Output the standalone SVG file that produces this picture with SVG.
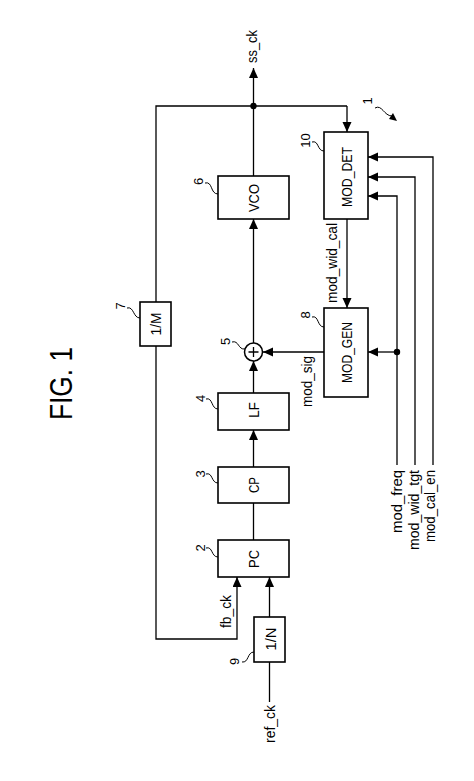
<svg xmlns="http://www.w3.org/2000/svg" width="474" height="781" viewBox="0 0 474 781">
<style>
.box{fill:#fff;stroke:#000;stroke-width:1.6}
.ln{fill:none;stroke:#000;stroke-width:1.3}
.ld{fill:none;stroke:#000;stroke-width:1}
.t{font-family:"Liberation Sans",Arial,sans-serif;font-size:14px;fill:#000;text-anchor:middle}
.n{font-family:"Liberation Sans",Arial,sans-serif;font-size:13px;fill:#000;text-anchor:middle}
</style>
<defs>
<marker id="ah" markerUnits="userSpaceOnUse" markerWidth="11" markerHeight="10" refX="10" refY="4.5" orient="auto">
<path d="M0,0 L10,4.5 L0,9 Z" fill="#000"/>
</marker>
</defs>
<rect width="474" height="781" fill="#fff"/>

<text class="t" style="font-size:32px" transform="translate(72,383.5) rotate(-90)" textLength="73" lengthAdjust="spacingAndGlyphs">FIG. 1</text>

<g id="connectors">
<path class="ln" d="M253.5,176 V68" marker-end="url(#ah)"/>
<path class="ln" d="M156,302 V106 H347"/>
<path class="ln" d="M347,106 V132" marker-end="url(#ah)"/>
<path class="ln" d="M156,346 V639 H237 V577" marker-end="url(#ah)"/>
<path class="ln" d="M269.5,702 V662"/>
<path class="ln" d="M269.5,617 V577" marker-end="url(#ah)"/>
<path class="ln" d="M253.5,540 V503"/>
<path class="ln" d="M253.5,467 V430" marker-end="url(#ah)"/>
<path class="ln" d="M253.5,393 V361" marker-end="url(#ah)"/>
<path class="ln" d="M253.5,343 V219" marker-end="url(#ah)"/>
<path class="ln" d="M324,352 H263" marker-end="url(#ah)"/>
<path class="ln" d="M347,219 V308" marker-end="url(#ah)"/>
<path class="ln" d="M397,465 V196 H368" marker-end="url(#ah)"/>
<path class="ln" d="M397,352 H368" marker-end="url(#ah)"/>
<path class="ln" d="M415,465 V177 H368" marker-end="url(#ah)"/>
<path class="ln" d="M433,465 V157 H368" marker-end="url(#ah)"/>
<circle cx="253.5" cy="106" r="3.2" fill="#000"/>
<circle cx="397" cy="352" r="3.2" fill="#000"/>
</g>

<g id="n1">
<text class="n" transform="translate(372,101) rotate(-90)">1</text>
<path class="ld" d="M375,108 C382,104 384,116 392,116"/>
<path d="M397,121 L389,119 L393,113 Z" fill="#000"/>
</g>

<g id="vco">
<rect class="box" x="218" y="176" width="71" height="43"/>
<text class="t" transform="translate(259,198) rotate(-90)" textLength="28" lengthAdjust="spacingAndGlyphs">VCO</text>
<text class="n" transform="translate(203,181.5) rotate(-90)">6</text>
<path class="ld" d="M205,183 C213,181 210,194 218,194"/>
</g>

<g id="lf">
<rect class="box" x="218" y="393" width="71" height="37"/>
<text class="t" transform="translate(259,410) rotate(-90)" textLength="16" lengthAdjust="spacingAndGlyphs">LF</text>
<text class="n" transform="translate(205,398.5) rotate(-90)">4</text>
<path class="ld" d="M206,399 C213,397 211,409 218,409"/>
</g>

<g id="cp">
<rect class="box" x="218" y="467" width="71" height="36"/>
<text class="t" transform="translate(259,485) rotate(-90)" textLength="16" lengthAdjust="spacingAndGlyphs">CP</text>
<text class="n" transform="translate(205,474) rotate(-90)">3</text>
<path class="ld" d="M206,474 C213,472 211,483 218,483"/>
</g>

<g id="pc">
<rect class="box" x="218" y="540" width="71" height="37"/>
<text class="t" transform="translate(259,559) rotate(-90)" textLength="18" lengthAdjust="spacingAndGlyphs">PC</text>
<text class="n" transform="translate(205,548) rotate(-90)">2</text>
<path class="ld" d="M206,548 C213,546 211,557 218,557"/>
</g>

<g id="sum">
<circle cx="253.5" cy="352" r="9" fill="#fff" stroke="#000" stroke-width="1.5"/>
<path class="ln" d="M248.5,352 H258.5 M253.5,347 V357"/>
<text class="n" transform="translate(230,341.5) rotate(-90)">5</text>
<path class="ld" d="M232,342 C239,340 238,350 245,349"/>
</g>

<g id="div_m">
<rect class="box" x="140" y="302" width="31" height="44"/>
<text class="t" transform="translate(161,324) rotate(-90)" textLength="23" lengthAdjust="spacingAndGlyphs">1/M</text>
<text class="n" transform="translate(125,306) rotate(-90)">7</text>
<path class="ld" d="M127,308 C134,306 133,318 140,318"/>
</g>

<g id="div_n">
<rect class="box" x="254" y="617" width="31" height="45"/>
<text class="t" transform="translate(276,639) rotate(-90)" textLength="23" lengthAdjust="spacingAndGlyphs">1/N</text>
<text class="n" transform="translate(239,661.5) rotate(-90)">9</text>
<path class="ld" d="M242,662 C249,663 247,652 254,652"/>
</g>

<g id="mod_det">
<rect class="box" x="324" y="132" width="44" height="87"/>
<text class="t" transform="translate(352,177) rotate(-90)" textLength="60" lengthAdjust="spacingAndGlyphs">MOD_DET</text>
<text class="n" transform="translate(310,140.5) rotate(-90)">10</text>
<path class="ld" d="M312,142 C319,140 317,151 324,151"/>
</g>

<g id="mod_gen">
<rect class="box" x="324" y="308" width="44" height="89"/>
<text class="t" transform="translate(352,352.5) rotate(-90)" textLength="61" lengthAdjust="spacingAndGlyphs">MOD_GEN</text>
<text class="n" transform="translate(310,315) rotate(-90)">8</text>
<path class="ld" d="M312,317 C319,315 317,327 324,327"/>
</g>

<g id="labels">
<text class="t" transform="translate(257,46.5) rotate(-90)" textLength="33" lengthAdjust="spacingAndGlyphs">ss_ck</text>
<text class="t" transform="translate(275,724) rotate(-90)" textLength="38" lengthAdjust="spacingAndGlyphs">ref_ck</text>
<text class="t" transform="translate(231,611.5) rotate(-90)" textLength="33" lengthAdjust="spacingAndGlyphs">fb_ck</text>
<text class="t" transform="translate(312,381.5) rotate(-90)" textLength="51" lengthAdjust="spacingAndGlyphs">mod_sig</text>
<text class="t" transform="translate(337,263) rotate(-90)" textLength="80" lengthAdjust="spacingAndGlyphs">mod_wid_cal</text>
<text class="t" transform="translate(402,501.5) rotate(-90)" textLength="63" lengthAdjust="spacingAndGlyphs">mod_freq</text>
<text class="t" transform="translate(419,510) rotate(-90)" textLength="80" lengthAdjust="spacingAndGlyphs">mod_wid_tgt</text>
<text class="t" transform="translate(435,506) rotate(-90)" textLength="72" lengthAdjust="spacingAndGlyphs">mod_cal_en</text>
</g>
</svg>
